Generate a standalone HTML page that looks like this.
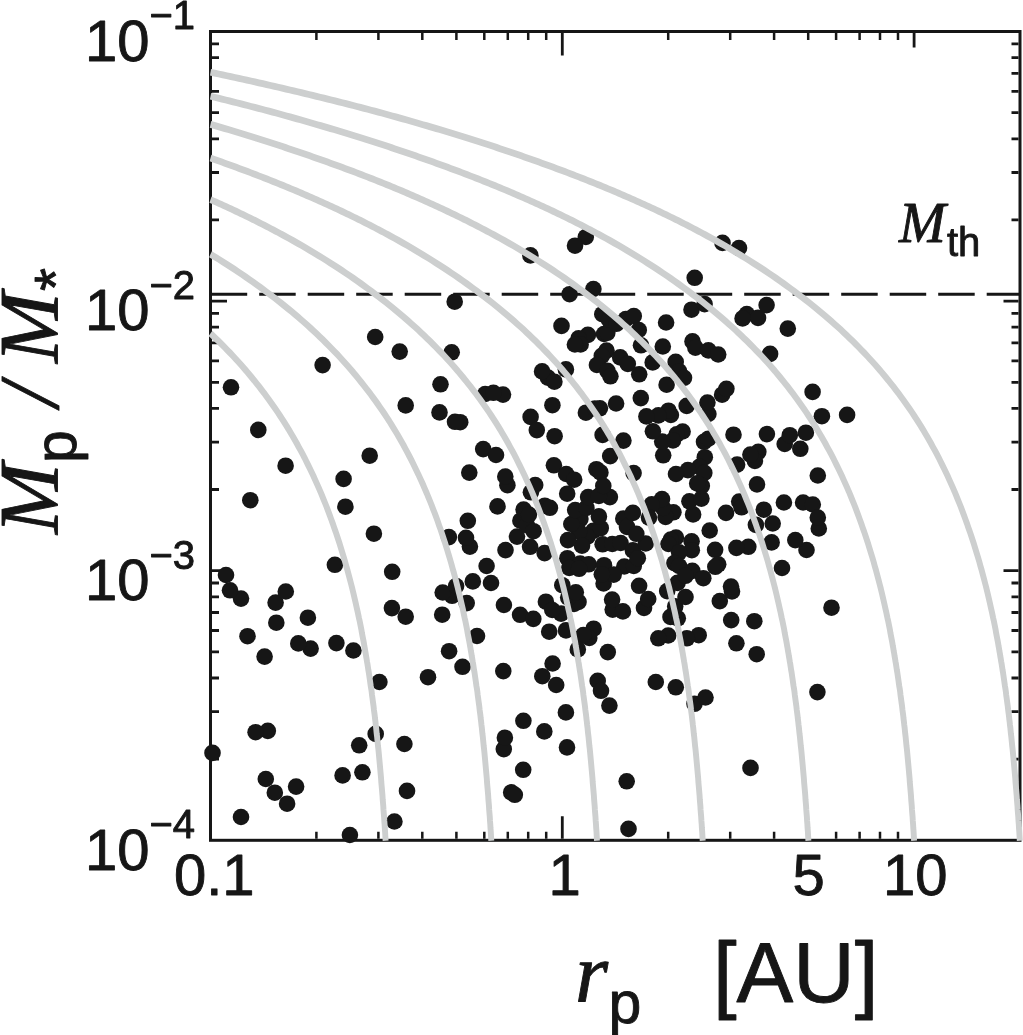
<!DOCTYPE html>
<html lang="en"><head><meta charset="utf-8"><title>Mp/M* vs rp</title>
<style>html,body{margin:0;padding:0;background:#fff}svg{display:block}.s{font-family:"Liberation Sans",sans-serif;fill:#161616;stroke:#161616;stroke-width:0.9px;stroke-linejoin:round}.t{font-family:"Liberation Serif",serif;font-style:italic;fill:#161616;stroke:#161616;stroke-width:0.9px;stroke-linejoin:round}</style></head><body>
<svg width="1023" height="1035" viewBox="0 0 1023 1035">
<rect width="1023" height="1035" fill="#fff"/>
<g stroke="#161616" fill="none" stroke-linecap="butt">
<rect x="210.5" y="31.5" width="809.5" height="808.8" stroke-width="3"/>
<path d="M212.0 759.1h7.0M1018.5 759.1h-7.0M212.0 711.7h7.0M1018.5 711.7h-7.0M212.0 678.0h7.0M1018.5 678.0h-7.0M212.0 651.9h7.0M1018.5 651.9h-7.0M212.0 630.5h7.0M1018.5 630.5h-7.0M212.0 612.5h7.0M1018.5 612.5h-7.0M212.0 596.8h7.0M1018.5 596.8h-7.0M212.0 583.0h7.0M1018.5 583.0h-7.0M212.0 570.7h15.0M1018.5 570.7h-15.0M212.0 489.5h7.0M1018.5 489.5h-7.0M212.0 442.1h7.0M1018.5 442.1h-7.0M212.0 408.4h7.0M1018.5 408.4h-7.0M212.0 382.3h7.0M1018.5 382.3h-7.0M212.0 360.9h7.0M1018.5 360.9h-7.0M212.0 342.9h7.0M1018.5 342.9h-7.0M212.0 327.2h7.0M1018.5 327.2h-7.0M212.0 313.4h7.0M1018.5 313.4h-7.0M212.0 301.1h15.0M1018.5 301.1h-15.0M212.0 219.9h7.0M1018.5 219.9h-7.0M212.0 172.5h7.0M1018.5 172.5h-7.0M212.0 138.8h7.0M1018.5 138.8h-7.0M212.0 112.7h7.0M1018.5 112.7h-7.0M212.0 91.3h7.0M1018.5 91.3h-7.0M212.0 73.3h7.0M1018.5 73.3h-7.0M212.0 57.6h7.0M1018.5 57.6h-7.0M212.0 43.8h7.0M1018.5 43.8h-7.0M212.0 31.5h15.0M1018.5 31.5h-15.0" stroke-width="2.8"/>
<path d="M316.4 838.8v-7.0M316.4 33.0v7.0M378.4 838.8v-7.0M378.4 33.0v7.0M422.3 838.8v-7.0M422.3 33.0v7.0M456.4 838.8v-7.0M456.4 33.0v7.0M484.3 838.8v-7.0M484.3 33.0v7.0M507.8 838.8v-7.0M507.8 33.0v7.0M528.2 838.8v-7.0M528.2 33.0v7.0M546.2 838.8v-7.0M546.2 33.0v7.0M668.2 838.8v-7.0M668.2 33.0v7.0M730.2 838.8v-7.0M730.2 33.0v7.0M774.1 838.8v-7.0M774.1 33.0v7.0M808.2 838.8v-7.0M808.2 33.0v7.0M836.1 838.8v-7.0M836.1 33.0v7.0M859.6 838.8v-7.0M859.6 33.0v7.0M880.0 838.8v-7.0M880.0 33.0v7.0M898.0 838.8v-7.0M898.0 33.0v7.0" stroke-width="2.5"/>
<path d="M562.3 838.8v-22.5M562.3 33.0v22.5M914.1 838.8v-14.5M914.1 33.0v14.5" stroke-width="2.8"/>
<path d="M210.7 294.2H1020.0" stroke-width="3.1" stroke-dasharray="36.5 12"/>
</g>
<g fill="#161616">
<circle cx="523.2" cy="769.8" r="8.3"/>
<circle cx="593.3" cy="530.8" r="8.3"/>
<circle cx="784.7" cy="444.0" r="8.3"/>
<circle cx="698.7" cy="635.2" r="8.3"/>
<circle cx="587.9" cy="334.9" r="8.3"/>
<circle cx="593.6" cy="628.7" r="8.3"/>
<circle cx="782.0" cy="568.0" r="8.3"/>
<circle cx="587.4" cy="536.7" r="8.3"/>
<circle cx="682.6" cy="431.5" r="8.3"/>
<circle cx="800.3" cy="448.8" r="8.3"/>
<circle cx="310.6" cy="648.6" r="8.3"/>
<circle cx="589.3" cy="638.0" r="8.3"/>
<circle cx="353.4" cy="650.5" r="8.3"/>
<circle cx="770.1" cy="353.9" r="8.3"/>
<circle cx="336.4" cy="643.1" r="8.3"/>
<circle cx="789.8" cy="435.2" r="8.3"/>
<circle cx="600.8" cy="528.1" r="8.3"/>
<circle cx="580.4" cy="519.1" r="8.3"/>
<circle cx="579.1" cy="531.8" r="8.3"/>
<circle cx="686.9" cy="638.3" r="8.3"/>
<circle cx="691.6" cy="541.3" r="8.3"/>
<circle cx="578.6" cy="338.4" r="8.3"/>
<circle cx="692.5" cy="341.4" r="8.3"/>
<circle cx="298.3" cy="643.4" r="8.3"/>
<circle cx="359.2" cy="745.3" r="8.3"/>
<circle cx="805.9" cy="432.7" r="8.3"/>
<circle cx="602.6" cy="434.9" r="8.3"/>
<circle cx="503.8" cy="749.1" r="8.3"/>
<circle cx="676.7" cy="434.3" r="8.3"/>
<circle cx="598.9" cy="516.4" r="8.3"/>
<circle cx="583.4" cy="635.1" r="8.3"/>
<circle cx="604.0" cy="334.0" r="8.3"/>
<circle cx="704.0" cy="441.8" r="8.3"/>
<circle cx="676.0" cy="537.5" r="8.3"/>
<circle cx="511.2" cy="792.4" r="8.3"/>
<circle cx="517.0" cy="536.6" r="8.3"/>
<circle cx="602.6" cy="544.3" r="8.3"/>
<circle cx="806.5" cy="550.0" r="8.3"/>
<circle cx="580.6" cy="344.5" r="8.3"/>
<circle cx="574.9" cy="344.5" r="8.3"/>
<circle cx="514.8" cy="794.8" r="8.3"/>
<circle cx="693.1" cy="514.4" r="8.3"/>
<circle cx="582.0" cy="545.7" r="8.3"/>
<circle cx="602.3" cy="314.2" r="8.3"/>
<circle cx="369.7" cy="455.7" r="8.3"/>
<circle cx="739.0" cy="248.0" r="8.3"/>
<circle cx="766.9" cy="434.1" r="8.3"/>
<circle cx="505.5" cy="550.1" r="8.3"/>
<circle cx="673.0" cy="440.4" r="8.3"/>
<circle cx="520.4" cy="520.7" r="8.3"/>
<circle cx="612.7" cy="609.6" r="8.3"/>
<circle cx="607.3" cy="332.8" r="8.3"/>
<circle cx="585.9" cy="412.7" r="8.3"/>
<circle cx="362.4" cy="772.3" r="8.3"/>
<circle cx="695.4" cy="347.7" r="8.3"/>
<circle cx="673.4" cy="512.3" r="8.3"/>
<circle cx="708.4" cy="414.0" r="8.3"/>
<circle cx="708.4" cy="438.7" r="8.3"/>
<circle cx="607.8" cy="652.1" r="8.3"/>
<circle cx="342.6" cy="775.4" r="8.3"/>
<circle cx="577.8" cy="649.4" r="8.3"/>
<circle cx="677.8" cy="618.3" r="8.3"/>
<circle cx="375.7" cy="733.9" r="8.3"/>
<circle cx="571.3" cy="524.0" r="8.3"/>
<circle cx="608.9" cy="319.6" r="8.3"/>
<circle cx="322.6" cy="365.1" r="8.3"/>
<circle cx="670.9" cy="415.0" r="8.3"/>
<circle cx="622.9" cy="611.4" r="8.3"/>
<circle cx="670.8" cy="539.6" r="8.3"/>
<circle cx="477.0" cy="636.0" r="8.3"/>
<circle cx="817.4" cy="692.1" r="8.3"/>
<circle cx="709.7" cy="530.5" r="8.3"/>
<circle cx="497.5" cy="506.4" r="8.3"/>
<circle cx="523.6" cy="509.5" r="8.3"/>
<circle cx="771.6" cy="542.4" r="8.3"/>
<circle cx="575.2" cy="510.1" r="8.3"/>
<circle cx="817.8" cy="475.5" r="8.3"/>
<circle cx="379.4" cy="682.0" r="8.3"/>
<circle cx="285.6" cy="465.7" r="8.3"/>
<circle cx="276.3" cy="622.7" r="8.3"/>
<circle cx="691.5" cy="309.7" r="8.3"/>
<circle cx="691.8" cy="550.2" r="8.3"/>
<circle cx="504.9" cy="737.7" r="8.3"/>
<circle cx="708.4" cy="350.4" r="8.3"/>
<circle cx="307.9" cy="617.7" r="8.3"/>
<circle cx="606.5" cy="350.6" r="8.3"/>
<circle cx="675.2" cy="606.4" r="8.3"/>
<circle cx="520.1" cy="614.8" r="8.3"/>
<circle cx="503.0" cy="394.6" r="8.3"/>
<circle cx="795.3" cy="540.1" r="8.3"/>
<circle cx="594.9" cy="408.5" r="8.3"/>
<circle cx="668.5" cy="410.7" r="8.3"/>
<circle cx="668.5" cy="544.0" r="8.3"/>
<circle cx="530.4" cy="255.4" r="8.3"/>
<circle cx="599.9" cy="408.3" r="8.3"/>
<circle cx="485.2" cy="394.0" r="8.3"/>
<circle cx="574.0" cy="604.0" r="8.3"/>
<circle cx="586.4" cy="507.9" r="8.3"/>
<circle cx="567.9" cy="540.1" r="8.3"/>
<circle cx="612.3" cy="544.0" r="8.3"/>
<circle cx="679.1" cy="552.3" r="8.3"/>
<circle cx="526.8" cy="525.1" r="8.3"/>
<circle cx="493.4" cy="392.8" r="8.3"/>
<circle cx="758.3" cy="451.8" r="8.3"/>
<circle cx="296.1" cy="786.6" r="8.3"/>
<circle cx="578.5" cy="601.9" r="8.3"/>
<circle cx="267.8" cy="730.9" r="8.3"/>
<circle cx="666.1" cy="322.5" r="8.3"/>
<circle cx="750.5" cy="767.9" r="8.3"/>
<circle cx="686.7" cy="405.9" r="8.3"/>
<circle cx="528.9" cy="514.6" r="8.3"/>
<circle cx="821.9" cy="416.2" r="8.3"/>
<circle cx="719.8" cy="601.1" r="8.3"/>
<circle cx="544.3" cy="731.4" r="8.3"/>
<circle cx="265.8" cy="779.0" r="8.3"/>
<circle cx="483.2" cy="449.1" r="8.3"/>
<circle cx="665.6" cy="517.0" r="8.3"/>
<circle cx="757.0" cy="484.4" r="8.3"/>
<circle cx="670.5" cy="616.9" r="8.3"/>
<circle cx="264.6" cy="656.6" r="8.3"/>
<circle cx="391.9" cy="608.1" r="8.3"/>
<circle cx="715.1" cy="549.8" r="8.3"/>
<circle cx="530.1" cy="546.8" r="8.3"/>
<circle cx="469.9" cy="546.6" r="8.3"/>
<circle cx="754.9" cy="461.0" r="8.3"/>
<circle cx="274.8" cy="792.7" r="8.3"/>
<circle cx="343.6" cy="478.9" r="8.3"/>
<circle cx="612.1" cy="599.6" r="8.3"/>
<circle cx="530.6" cy="416.9" r="8.3"/>
<circle cx="756.7" cy="654.2" r="8.3"/>
<circle cx="601.8" cy="355.8" r="8.3"/>
<circle cx="561.5" cy="325.9" r="8.3"/>
<circle cx="731.2" cy="620.1" r="8.3"/>
<circle cx="503.3" cy="671.1" r="8.3"/>
<circle cx="704.6" cy="304.1" r="8.3"/>
<circle cx="610.2" cy="456.1" r="8.3"/>
<circle cx="275.6" cy="602.6" r="8.3"/>
<circle cx="616.4" cy="323.8" r="8.3"/>
<circle cx="616.1" cy="403.5" r="8.3"/>
<circle cx="722.5" cy="242.9" r="8.3"/>
<circle cx="668.2" cy="635.5" r="8.3"/>
<circle cx="663.2" cy="455.3" r="8.3"/>
<circle cx="467.8" cy="520.8" r="8.3"/>
<circle cx="663.0" cy="507.9" r="8.3"/>
<circle cx="568.2" cy="597.6" r="8.3"/>
<circle cx="258.3" cy="429.9" r="8.3"/>
<circle cx="662.8" cy="346.5" r="8.3"/>
<circle cx="704.8" cy="457.2" r="8.3"/>
<circle cx="707.4" cy="402.5" r="8.3"/>
<circle cx="685.5" cy="597.0" r="8.3"/>
<circle cx="533.3" cy="618.9" r="8.3"/>
<circle cx="662.2" cy="441.6" r="8.3"/>
<circle cx="399.7" cy="351.6" r="8.3"/>
<circle cx="533.6" cy="531.2" r="8.3"/>
<circle cx="718.2" cy="354.5" r="8.3"/>
<circle cx="567.4" cy="558.2" r="8.3"/>
<circle cx="766.6" cy="305.1" r="8.3"/>
<circle cx="255.6" cy="732.2" r="8.3"/>
<circle cx="466.0" cy="537.8" r="8.3"/>
<circle cx="750.4" cy="454.6" r="8.3"/>
<circle cx="566.0" cy="630.4" r="8.3"/>
<circle cx="689.4" cy="501.3" r="8.3"/>
<circle cx="496.0" cy="455.0" r="8.3"/>
<circle cx="503.9" cy="605.0" r="8.3"/>
<circle cx="585.8" cy="237.0" r="8.3"/>
<circle cx="567.0" cy="747.4" r="8.3"/>
<circle cx="287.1" cy="803.7" r="8.3"/>
<circle cx="818.8" cy="528.5" r="8.3"/>
<circle cx="831.5" cy="607.7" r="8.3"/>
<circle cx="748.3" cy="546.8" r="8.3"/>
<circle cx="404.4" cy="744.0" r="8.3"/>
<circle cx="486.6" cy="566.0" r="8.3"/>
<circle cx="375.2" cy="337.0" r="8.3"/>
<circle cx="620.2" cy="357.4" r="8.3"/>
<circle cx="405.7" cy="405.4" r="8.3"/>
<circle cx="405.7" cy="616.7" r="8.3"/>
<circle cx="736.4" cy="643.3" r="8.3"/>
<circle cx="285.8" cy="591.5" r="8.3"/>
<circle cx="620.6" cy="543.0" r="8.3"/>
<circle cx="536.8" cy="430.1" r="8.3"/>
<circle cx="466.7" cy="603.1" r="8.3"/>
<circle cx="523.4" cy="720.8" r="8.3"/>
<circle cx="407.0" cy="790.9" r="8.3"/>
<circle cx="569.6" cy="294.2" r="8.3"/>
<circle cx="662.0" cy="499.1" r="8.3"/>
<circle cx="462.5" cy="666.8" r="8.3"/>
<circle cx="247.5" cy="636.2" r="8.3"/>
<circle cx="701.4" cy="498.6" r="8.3"/>
<circle cx="530.9" cy="492.3" r="8.3"/>
<circle cx="575.8" cy="592.3" r="8.3"/>
<circle cx="658.4" cy="415.4" r="8.3"/>
<circle cx="675.7" cy="361.9" r="8.3"/>
<circle cx="755.9" cy="524.9" r="8.3"/>
<circle cx="732.0" cy="591.4" r="8.3"/>
<circle cx="561.1" cy="613.6" r="8.3"/>
<circle cx="667.2" cy="591.1" r="8.3"/>
<circle cx="609.9" cy="497.1" r="8.3"/>
<circle cx="588.1" cy="497.1" r="8.3"/>
<circle cx="674.4" cy="563.1" r="8.3"/>
<circle cx="460.2" cy="422.2" r="8.3"/>
<circle cx="772.7" cy="523.5" r="8.3"/>
<circle cx="623.3" cy="518.6" r="8.3"/>
<circle cx="623.4" cy="440.6" r="8.3"/>
<circle cx="580.1" cy="563.6" r="8.3"/>
<circle cx="250.3" cy="500.2" r="8.3"/>
<circle cx="746.8" cy="314.0" r="8.3"/>
<circle cx="241.0" cy="598.6" r="8.3"/>
<circle cx="598.9" cy="495.9" r="8.3"/>
<circle cx="588.7" cy="564.3" r="8.3"/>
<circle cx="718.2" cy="564.3" r="8.3"/>
<circle cx="847.1" cy="414.9" r="8.3"/>
<circle cx="575.0" cy="245.7" r="8.3"/>
<circle cx="241.0" cy="817.0" r="8.3"/>
<circle cx="658.3" cy="638.3" r="8.3"/>
<circle cx="596.9" cy="365.0" r="8.3"/>
<circle cx="604.0" cy="565.2" r="8.3"/>
<circle cx="542.3" cy="676.2" r="8.3"/>
<circle cx="554.6" cy="436.2" r="8.3"/>
<circle cx="722.1" cy="394.7" r="8.3"/>
<circle cx="625.8" cy="319.1" r="8.3"/>
<circle cx="553.9" cy="465.3" r="8.3"/>
<circle cx="726.0" cy="512.9" r="8.3"/>
<circle cx="679.1" cy="566.0" r="8.3"/>
<circle cx="565.9" cy="712.4" r="8.3"/>
<circle cx="345.4" cy="506.7" r="8.3"/>
<circle cx="758.0" cy="317.9" r="8.3"/>
<circle cx="567.2" cy="493.7" r="8.3"/>
<circle cx="731.0" cy="586.6" r="8.3"/>
<circle cx="394.4" cy="821.5" r="8.3"/>
<circle cx="624.3" cy="566.5" r="8.3"/>
<circle cx="742.6" cy="318.4" r="8.3"/>
<circle cx="754.3" cy="621.2" r="8.3"/>
<circle cx="644.0" cy="607.9" r="8.3"/>
<circle cx="699.4" cy="466.8" r="8.3"/>
<circle cx="715.3" cy="566.8" r="8.3"/>
<circle cx="739.2" cy="501.5" r="8.3"/>
<circle cx="639.1" cy="585.8" r="8.3"/>
<circle cx="627.0" cy="526.9" r="8.3"/>
<circle cx="652.9" cy="431.3" r="8.3"/>
<circle cx="652.7" cy="362.4" r="8.3"/>
<circle cx="507.4" cy="485.2" r="8.3"/>
<circle cx="544.8" cy="505.7" r="8.3"/>
<circle cx="544.6" cy="553.1" r="8.3"/>
<circle cx="562.3" cy="585.2" r="8.3"/>
<circle cx="455.0" cy="421.8" r="8.3"/>
<circle cx="535.2" cy="485.0" r="8.3"/>
<circle cx="783.9" cy="502.5" r="8.3"/>
<circle cx="803.1" cy="502.5" r="8.3"/>
<circle cx="552.4" cy="405.2" r="8.3"/>
<circle cx="627.8" cy="363.9" r="8.3"/>
<circle cx="737.1" cy="464.6" r="8.3"/>
<circle cx="231.0" cy="387.3" r="8.3"/>
<circle cx="569.3" cy="568.0" r="8.3"/>
<circle cx="230.0" cy="590.3" r="8.3"/>
<circle cx="651.7" cy="504.4" r="8.3"/>
<circle cx="736.4" cy="547.9" r="8.3"/>
<circle cx="545.9" cy="601.7" r="8.3"/>
<circle cx="392.2" cy="571.8" r="8.3"/>
<circle cx="579.1" cy="568.8" r="8.3"/>
<circle cx="603.6" cy="583.5" r="8.3"/>
<circle cx="812.8" cy="504.5" r="8.3"/>
<circle cx="428.0" cy="677.2" r="8.3"/>
<circle cx="628.5" cy="828.9" r="8.3"/>
<circle cx="596.4" cy="469.2" r="8.3"/>
<circle cx="677.5" cy="582.9" r="8.3"/>
<circle cx="565.9" cy="369.4" r="8.3"/>
<circle cx="552.6" cy="663.5" r="8.3"/>
<circle cx="626.7" cy="781.3" r="8.3"/>
<circle cx="552.3" cy="610.0" r="8.3"/>
<circle cx="226.0" cy="575.0" r="8.3"/>
<circle cx="547.9" cy="377.6" r="8.3"/>
<circle cx="452.1" cy="595.8" r="8.3"/>
<circle cx="549.9" cy="507.8" r="8.3"/>
<circle cx="687.9" cy="470.1" r="8.3"/>
<circle cx="648.2" cy="599.0" r="8.3"/>
<circle cx="733.5" cy="434.7" r="8.3"/>
<circle cx="542.1" cy="371.4" r="8.3"/>
<circle cx="454.7" cy="301.7" r="8.3"/>
<circle cx="607.4" cy="370.9" r="8.3"/>
<circle cx="692.3" cy="570.9" r="8.3"/>
<circle cx="741.6" cy="507.3" r="8.3"/>
<circle cx="593.4" cy="289.0" r="8.3"/>
<circle cx="649.0" cy="517.6" r="8.3"/>
<circle cx="334.9" cy="564.8" r="8.3"/>
<circle cx="549.2" cy="631.7" r="8.3"/>
<circle cx="726.4" cy="388.8" r="8.3"/>
<circle cx="679.1" cy="371.4" r="8.3"/>
<circle cx="812.6" cy="391.9" r="8.3"/>
<circle cx="349.9" cy="835.0" r="8.3"/>
<circle cx="600.4" cy="472.4" r="8.3"/>
<circle cx="597.7" cy="680.9" r="8.3"/>
<circle cx="449.1" cy="651.2" r="8.3"/>
<circle cx="448.9" cy="537.1" r="8.3"/>
<circle cx="451.7" cy="352.3" r="8.3"/>
<circle cx="763.8" cy="509.7" r="8.3"/>
<circle cx="704.3" cy="472.9" r="8.3"/>
<circle cx="632.9" cy="512.9" r="8.3"/>
<circle cx="632.9" cy="550.4" r="8.3"/>
<circle cx="787.8" cy="328.6" r="8.3"/>
<circle cx="472.8" cy="581.4" r="8.3"/>
<circle cx="703.3" cy="578.2" r="8.3"/>
<circle cx="655.8" cy="682.0" r="8.3"/>
<circle cx="439.5" cy="412.4" r="8.3"/>
<circle cx="633.6" cy="473.1" r="8.3"/>
<circle cx="646.4" cy="416.4" r="8.3"/>
<circle cx="633.8" cy="316.0" r="8.3"/>
<circle cx="633.8" cy="566.0" r="8.3"/>
<circle cx="613.7" cy="574.6" r="8.3"/>
<circle cx="469.3" cy="472.6" r="8.3"/>
<circle cx="440.5" cy="384.3" r="8.3"/>
<circle cx="694.7" cy="277.8" r="8.3"/>
<circle cx="566.2" cy="474.0" r="8.3"/>
<circle cx="676.0" cy="474.0" r="8.3"/>
<circle cx="603.3" cy="485.9" r="8.3"/>
<circle cx="701.8" cy="485.9" r="8.3"/>
<circle cx="491.0" cy="583.0" r="8.3"/>
<circle cx="601.8" cy="574.3" r="8.3"/>
<circle cx="645.7" cy="543.5" r="8.3"/>
<circle cx="442.2" cy="614.7" r="8.3"/>
<circle cx="505.3" cy="476.5" r="8.3"/>
<circle cx="442.7" cy="592.5" r="8.3"/>
<circle cx="212.5" cy="752.9" r="8.3"/>
<circle cx="685.5" cy="575.8" r="8.3"/>
<circle cx="666.6" cy="384.7" r="8.3"/>
<circle cx="554.4" cy="381.7" r="8.3"/>
<circle cx="556.2" cy="685.0" r="8.3"/>
<circle cx="610.4" cy="376.3" r="8.3"/>
<circle cx="636.3" cy="533.8" r="8.3"/>
<circle cx="697.2" cy="483.4" r="8.3"/>
<circle cx="373.9" cy="533.7" r="8.3"/>
<circle cx="456.1" cy="586.1" r="8.3"/>
<circle cx="684.0" cy="377.8" r="8.3"/>
<circle cx="637.8" cy="558.2" r="8.3"/>
<circle cx="675.8" cy="687.3" r="8.3"/>
<circle cx="609.4" cy="705.6" r="8.3"/>
<circle cx="817.8" cy="517.5" r="8.3"/>
<circle cx="694.5" cy="703.8" r="8.3"/>
<circle cx="641.0" cy="345.3" r="8.3"/>
<circle cx="639.2" cy="374.3" r="8.3"/>
<circle cx="640.8" cy="398.1" r="8.3"/>
<circle cx="574.2" cy="479.7" r="8.3"/>
<circle cx="601.0" cy="690.8" r="8.3"/>
<circle cx="705.5" cy="697.5" r="8.3"/>
<circle cx="638.8" cy="330.0" r="8.3"/>
</g>
<g transform="scale(1 1.15)" stroke="#cdcfcf" fill="none" stroke-width="5.9" stroke-linecap="butt" stroke-linejoin="round">
<path d="M210.5 62.80L214.6 63.56L218.7 64.32L222.8 65.08L226.8 65.84L230.9 66.61L234.9 67.37L238.9 68.14L242.9 68.91L246.9 69.68L250.9 70.45L254.9 71.22L258.8 72.00L262.8 72.77L266.7 73.55L270.6 74.32L274.5 75.10L278.4 75.88L282.2 76.66L286.1 77.45L290.0 78.23L293.8 79.02L297.6 79.80L301.4 80.59L305.2 81.38L309.0 82.17L312.7 82.96L316.5 83.76L320.2 84.55L324.0 85.35L327.7 86.15L331.4 86.95L335.1 87.75L338.7 88.55L342.4 89.35L346.0 90.16L349.7 90.96L353.3 91.77L356.9 92.58L360.5 93.39L364.1 94.20L367.7 95.02L371.2 95.84L374.8 96.66L378.3 97.49L381.8 98.32L385.3 99.15L388.8 99.99L392.3 100.82L395.8 101.66L399.2 102.50L402.7 103.34L406.1 104.18L409.5 105.02L412.9 105.87L416.3 106.71L419.7 107.56L423.0 108.41L426.4 109.26L429.7 110.11L433.1 110.96L436.4 111.82L439.7 112.67L443.0 113.53L446.2 114.39L449.5 115.25L452.8 116.12L456.0 116.98L459.2 117.85L462.5 118.72L465.7 119.59L468.9 120.46L472.0 121.33L475.2 122.20L478.4 123.08L481.5 123.96L484.6 124.84L487.8 125.72L490.9 126.60L494.0 127.49L497.1 128.37L500.1 129.26L503.2 130.15L506.2 131.04L509.3 131.93L512.3 132.83L515.3 133.72L518.3 134.62L521.3 135.52L524.3 136.42L527.2 137.33L530.2 138.23L533.1 139.14L536.1 140.05L539.0 140.95L541.9 141.86L544.8 142.77L547.7 143.68L550.6 144.60L553.4 145.51L556.3 146.43L559.1 147.35L562.0 148.27L564.8 149.19L567.6 150.12L570.4 151.04L573.2 151.97L575.9 152.90L578.7 153.83L581.4 154.77L584.2 155.70L586.9 156.64L589.6 157.58L592.3 158.52L595.0 159.46L597.7 160.41L600.4 161.36L603.0 162.30L605.7 163.26L608.3 164.21L610.9 165.16L613.6 166.12L616.2 167.08L618.8 168.04L621.3 169.00L623.9 169.97L626.5 170.94L629.0 171.91L631.6 172.88L634.1 173.85L636.6 174.82L639.1 175.80L641.6 176.78L644.1 177.76L646.6 178.75L649.0 179.73L651.5 180.72L653.9 181.71L656.4 182.70L658.8 183.69L661.2 184.69L663.6 185.69L666.0 186.69L668.4 187.69L670.7 188.70L673.1 189.70L675.4 190.71L677.8 191.72L680.1 192.74L682.4 193.75L684.7 194.77L687.0 195.79L689.3 196.81L691.6 197.84L693.8 198.87L696.1 199.90L698.3 200.93L700.6 201.97L702.8 203.00L705.0 204.04L707.2 205.09L711.6 207.18L715.9 209.28L720.2 211.39L724.5 213.51L728.7 215.64L732.8 217.78L737.0 219.92L741.1 222.08L745.1 224.25L749.1 226.43L753.1 228.62L757.1 230.82L761.0 233.03L764.8 235.25L768.6 237.48L772.4 239.72L776.2 241.97L779.9 244.24L783.6 246.51L787.2 248.80L790.8 251.09L794.4 253.40L797.9 255.70L801.4 258.01L804.9 260.33L808.3 262.67L811.7 265.01L815.1 267.37L818.4 269.74L821.7 272.12L825.0 274.52L828.2 276.93L831.4 279.35L834.5 281.78L837.7 284.23L840.8 286.69L843.8 289.16L846.8 291.65L849.8 294.15L852.8 296.67L855.7 299.19L858.6 301.74L861.4 304.29L864.3 306.86L867.1 309.45L869.8 312.05L872.6 314.67L875.3 317.30L877.9 319.94L880.6 322.60L883.2 325.28L885.7 327.97L888.3 330.68L890.8 333.41L893.3 336.15L895.7 338.91L898.2 341.68L900.5 344.48L902.9 347.29L905.2 350.11L907.5 352.96L909.8 355.82L912.1 358.70L914.3 361.60L916.5 364.52L918.6 367.46L920.8 370.43L922.9 373.41L924.9 376.41L927.0 379.43L929.0 382.47L931.0 385.53L932.9 388.62L934.9 391.72L936.8 394.84L938.7 397.99L940.5 401.16L942.3 404.35L944.1 407.56L945.9 410.80L947.7 414.06L949.4 417.34L951.1 420.65L952.8 423.97L954.5 427.32L956.1 430.70L957.7 434.10L959.3 437.53L960.9 440.99L962.4 444.47L963.9 447.98L965.4 451.51L966.9 455.08L968.3 458.67L969.8 462.29L971.2 465.94L972.6 469.61L974.0 473.32L975.3 477.06L976.6 480.83L978.0 484.63L979.3 488.47L980.5 492.33L981.8 496.24L983.0 500.17L984.2 504.14L985.4 508.15L986.6 512.19L987.7 516.27L988.8 520.39L989.9 524.54L991.0 528.74L992.1 532.97L992.6 535.10L993.1 537.24L993.7 539.40L994.2 541.56L994.7 543.73L995.2 545.92L995.7 548.11L996.1 550.32L996.6 552.54L997.1 554.77L997.6 557.01L998.1 559.26L998.5 561.52L999.0 563.79L999.4 566.07L999.9 568.37L1000.3 570.68L1000.8 573.00L1001.2 575.33L1001.7 577.67L1002.1 580.03L1002.5 582.40L1003.0 584.78L1003.4 587.17L1003.8 589.57L1004.2 591.99L1004.6 594.42L1005.0 596.87L1005.5 599.33L1005.9 601.80L1006.2 604.29L1006.6 606.78L1007.0 609.30L1007.4 611.83L1007.8 614.37L1008.1 616.92L1008.5 619.50L1008.9 622.08L1009.2 624.68L1009.6 627.30L1009.9 629.93L1010.3 632.58L1010.6 635.24L1010.9 637.92L1011.3 640.61L1011.6 643.32L1011.9 646.05L1012.2 648.79L1012.6 651.55L1012.9 654.33L1013.2 657.12L1013.5 659.93L1013.8 662.76L1014.1 665.60L1014.4 668.47L1014.7 671.35L1015.0 674.25L1015.3 677.17L1015.5 680.11L1015.8 683.07L1016.1 686.05L1016.4 689.04L1016.7 692.06L1016.9 695.10L1017.2 698.15L1017.5 701.23L1017.7 704.33L1018.0 707.45L1018.3 710.59L1018.5 713.76L1018.8 716.94L1019.0 720.15L1019.3 723.39L1019.5 726.64L1019.8 731.01"/>
<path d="M210.5 83.70L214.5 84.55L218.3 85.35L222.0 86.15L225.7 86.95L229.4 87.75L233.0 88.55L236.7 89.35L240.3 90.16L244.0 90.96L247.6 91.77L251.2 92.58L254.8 93.39L258.4 94.20L262.0 95.02L265.5 95.84L269.1 96.66L272.6 97.49L276.1 98.32L279.6 99.15L283.1 99.99L286.6 100.82L290.1 101.66L293.5 102.50L297.0 103.34L300.4 104.18L303.8 105.02L307.2 105.87L310.6 106.71L314.0 107.56L317.3 108.41L320.7 109.26L324.0 110.11L327.4 110.96L330.7 111.82L334.0 112.67L337.3 113.53L340.5 114.39L343.8 115.25L347.1 116.12L350.3 116.98L353.5 117.85L356.8 118.72L360.0 119.59L363.2 120.46L366.3 121.33L369.5 122.20L372.7 123.08L375.8 123.96L378.9 124.84L382.1 125.72L385.2 126.60L388.3 127.49L391.4 128.37L394.4 129.26L397.5 130.15L400.5 131.04L403.6 131.93L406.6 132.83L409.6 133.72L412.6 134.62L415.6 135.52L418.6 136.42L421.5 137.33L424.5 138.23L427.4 139.14L430.4 140.05L433.3 140.95L436.2 141.86L439.1 142.77L442.0 143.68L444.9 144.60L447.7 145.51L450.6 146.43L453.4 147.35L456.3 148.27L459.1 149.19L461.9 150.12L464.7 151.04L467.5 151.97L470.2 152.90L473.0 153.83L475.7 154.77L478.5 155.70L481.2 156.64L483.9 157.58L486.6 158.52L489.3 159.46L492.0 160.41L494.7 161.36L497.3 162.30L500.0 163.26L502.6 164.21L505.2 165.16L507.9 166.12L510.5 167.08L513.1 168.04L515.6 169.00L518.2 169.97L520.8 170.94L523.3 171.91L525.9 172.88L528.4 173.85L530.9 174.82L533.4 175.80L535.9 176.78L538.4 177.76L540.9 178.75L543.3 179.73L545.8 180.72L548.2 181.71L550.7 182.70L553.1 183.69L555.5 184.69L557.9 185.69L560.3 186.69L562.7 187.69L565.0 188.70L567.4 189.70L569.7 190.71L572.1 191.72L574.4 192.74L576.7 193.75L579.0 194.77L581.3 195.79L583.6 196.81L585.9 197.84L588.1 198.87L590.4 199.90L592.6 200.93L594.9 201.97L597.1 203.00L599.3 204.04L601.5 205.09L605.9 207.18L610.2 209.28L614.5 211.39L618.8 213.51L623.0 215.64L627.1 217.78L631.3 219.92L635.4 222.08L639.4 224.25L643.4 226.43L647.4 228.62L651.4 230.82L655.3 233.03L659.1 235.25L662.9 237.48L666.7 239.72L670.5 241.97L674.2 244.24L677.9 246.51L681.5 248.80L685.1 251.09L688.7 253.40L692.2 255.70L695.7 258.01L699.2 260.33L702.6 262.67L706.0 265.01L709.4 267.37L712.7 269.74L716.0 272.12L719.3 274.52L722.5 276.93L725.7 279.35L728.8 281.78L732.0 284.23L735.1 286.69L738.1 289.16L741.1 291.65L744.1 294.15L747.1 296.67L750.0 299.19L752.9 301.74L755.7 304.29L758.6 306.86L761.4 309.45L764.1 312.05L766.9 314.67L769.6 317.30L772.2 319.94L774.9 322.60L777.5 325.28L780.0 327.97L782.6 330.68L785.1 333.41L787.6 336.15L790.0 338.91L792.5 341.68L794.8 344.48L797.2 347.29L799.5 350.11L801.8 352.96L804.1 355.82L806.4 358.70L808.6 361.60L810.8 364.52L812.9 367.46L815.1 370.43L817.2 373.41L819.2 376.41L821.3 379.43L823.3 382.47L825.3 385.53L827.2 388.62L829.2 391.72L831.1 394.84L833.0 397.99L834.8 401.16L836.6 404.35L838.4 407.56L840.2 410.80L842.0 414.06L843.7 417.34L845.4 420.65L847.1 423.97L848.8 427.32L850.4 430.70L852.0 434.10L853.6 437.53L855.2 440.99L856.7 444.47L858.2 447.98L859.7 451.51L861.2 455.08L862.6 458.67L864.1 462.29L865.5 465.94L866.9 469.61L868.3 473.32L869.6 477.06L870.9 480.83L872.3 484.63L873.6 488.47L874.8 492.33L876.1 496.24L877.3 500.17L878.5 504.14L879.7 508.15L880.9 512.19L882.0 516.27L883.1 520.39L884.2 524.54L885.3 528.74L886.4 532.97L886.9 535.10L887.4 537.24L888.0 539.40L888.5 541.56L889.0 543.73L889.5 545.92L890.0 548.11L890.4 550.32L890.9 552.54L891.4 554.77L891.9 557.01L892.4 559.26L892.8 561.52L893.3 563.79L893.7 566.07L894.2 568.37L894.6 570.68L895.1 573.00L895.5 575.33L896.0 577.67L896.4 580.03L896.8 582.40L897.3 584.78L897.7 587.17L898.1 589.57L898.5 591.99L898.9 594.42L899.3 596.87L899.8 599.33L900.2 601.80L900.5 604.29L900.9 606.78L901.3 609.30L901.7 611.83L902.1 614.37L902.4 616.92L902.8 619.50L903.2 622.08L903.5 624.68L903.9 627.30L904.2 629.93L904.6 632.58L904.9 635.24L905.2 637.92L905.6 640.61L905.9 643.32L906.2 646.05L906.5 648.79L906.9 651.55L907.2 654.33L907.5 657.12L907.8 659.93L908.1 662.76L908.4 665.60L908.7 668.47L909.0 671.35L909.3 674.25L909.6 677.17L909.8 680.11L910.1 683.07L910.4 686.05L910.7 689.04L911.0 692.06L911.2 695.10L911.5 698.15L911.8 701.23L912.0 704.33L912.3 707.45L912.6 710.59L912.8 713.76L913.1 716.94L913.3 720.15L913.6 723.39L913.8 726.64L914.1 731.01"/>
<path d="M210.5 108.12L215.0 109.26L218.3 110.11L221.7 110.96L225.0 111.82L228.3 112.67L231.6 113.53L234.8 114.39L238.1 115.25L241.4 116.12L244.6 116.98L247.8 117.85L251.1 118.72L254.3 119.59L257.5 120.46L260.6 121.33L263.8 122.20L267.0 123.08L270.1 123.96L273.2 124.84L276.4 125.72L279.5 126.60L282.6 127.49L285.7 128.37L288.7 129.26L291.8 130.15L294.8 131.04L297.9 131.93L300.9 132.83L303.9 133.72L306.9 134.62L309.9 135.52L312.9 136.42L315.8 137.33L318.8 138.23L321.7 139.14L324.7 140.05L327.6 140.95L330.5 141.86L333.4 142.77L336.3 143.68L339.2 144.60L342.0 145.51L344.9 146.43L347.7 147.35L350.6 148.27L353.4 149.19L356.2 150.12L359.0 151.04L361.8 151.97L364.5 152.90L367.3 153.83L370.0 154.77L372.8 155.70L375.5 156.64L378.2 157.58L380.9 158.52L383.6 159.46L386.3 160.41L389.0 161.36L391.6 162.30L394.3 163.26L396.9 164.21L399.5 165.16L402.2 166.12L404.8 167.08L407.4 168.04L409.9 169.00L412.5 169.97L415.1 170.94L417.6 171.91L420.2 172.88L422.7 173.85L425.2 174.82L427.7 175.80L430.2 176.78L432.7 177.76L435.2 178.75L437.6 179.73L440.1 180.72L442.5 181.71L445.0 182.70L447.4 183.69L449.8 184.69L452.2 185.69L454.6 186.69L457.0 187.69L459.3 188.70L461.7 189.70L464.0 190.71L466.4 191.72L468.7 192.74L471.0 193.75L473.3 194.77L475.6 195.79L477.9 196.81L480.2 197.84L482.4 198.87L484.7 199.90L486.9 200.93L489.2 201.97L491.4 203.00L493.6 204.04L495.8 205.09L500.2 207.18L504.5 209.28L508.8 211.39L513.1 213.51L517.3 215.64L521.4 217.78L525.6 219.92L529.7 222.08L533.7 224.25L537.7 226.43L541.7 228.62L545.7 230.82L549.6 233.03L553.4 235.25L557.2 237.48L561.0 239.72L564.8 241.97L568.5 244.24L572.2 246.51L575.8 248.80L579.4 251.09L583.0 253.40L586.5 255.70L590.0 258.01L593.5 260.33L596.9 262.67L600.3 265.01L603.7 267.37L607.0 269.74L610.3 272.12L613.6 274.52L616.8 276.93L620.0 279.35L623.1 281.78L626.3 284.23L629.4 286.69L632.4 289.16L635.4 291.65L638.4 294.15L641.4 296.67L644.3 299.19L647.2 301.74L650.0 304.29L652.9 306.86L655.7 309.45L658.4 312.05L661.2 314.67L663.9 317.30L666.5 319.94L669.2 322.60L671.8 325.28L674.3 327.97L676.9 330.68L679.4 333.41L681.9 336.15L684.3 338.91L686.8 341.68L689.1 344.48L691.5 347.29L693.8 350.11L696.1 352.96L698.4 355.82L700.7 358.70L702.9 361.60L705.1 364.52L707.2 367.46L709.4 370.43L711.5 373.41L713.5 376.41L715.6 379.43L717.6 382.47L719.6 385.53L721.5 388.62L723.5 391.72L725.4 394.84L727.3 397.99L729.1 401.16L730.9 404.35L732.7 407.56L734.5 410.80L736.3 414.06L738.0 417.34L739.7 420.65L741.4 423.97L743.1 427.32L744.7 430.70L746.3 434.10L747.9 437.53L749.5 440.99L751.0 444.47L752.5 447.98L754.0 451.51L755.5 455.08L756.9 458.67L758.4 462.29L759.8 465.94L761.2 469.61L762.6 473.32L763.9 477.06L765.2 480.83L766.6 484.63L767.9 488.47L769.1 492.33L770.4 496.24L771.6 500.17L772.8 504.14L774.0 508.15L775.2 512.19L776.3 516.27L777.4 520.39L778.5 524.54L779.6 528.74L780.7 532.97L781.2 535.10L781.7 537.24L782.3 539.40L782.8 541.56L783.3 543.73L783.8 545.92L784.3 548.11L784.7 550.32L785.2 552.54L785.7 554.77L786.2 557.01L786.7 559.26L787.1 561.52L787.6 563.79L788.0 566.07L788.5 568.37L788.9 570.68L789.4 573.00L789.8 575.33L790.3 577.67L790.7 580.03L791.1 582.40L791.6 584.78L792.0 587.17L792.4 589.57L792.8 591.99L793.2 594.42L793.6 596.87L794.1 599.33L794.5 601.80L794.8 604.29L795.2 606.78L795.6 609.30L796.0 611.83L796.4 614.37L796.7 616.92L797.1 619.50L797.5 622.08L797.8 624.68L798.2 627.30L798.5 629.93L798.9 632.58L799.2 635.24L799.5 637.92L799.9 640.61L800.2 643.32L800.5 646.05L800.8 648.79L801.2 651.55L801.5 654.33L801.8 657.12L802.1 659.93L802.4 662.76L802.7 665.60L803.0 668.47L803.3 671.35L803.6 674.25L803.9 677.17L804.1 680.11L804.4 683.07L804.7 686.05L805.0 689.04L805.3 692.06L805.5 695.10L805.8 698.15L806.1 701.23L806.3 704.33L806.6 707.45L806.9 710.59L807.1 713.76L807.4 716.94L807.6 720.15L807.9 723.39L808.1 726.64L808.4 731.01"/>
<path d="M210.5 137.43L213.1 138.23L216.0 139.14L219.0 140.05L221.9 140.95L224.8 141.86L227.7 142.77L230.6 143.68L233.5 144.60L236.3 145.51L239.2 146.43L242.0 147.35L244.9 148.27L247.7 149.19L250.5 150.12L253.3 151.04L256.1 151.97L258.8 152.90L261.6 153.83L264.3 154.77L267.1 155.70L269.8 156.64L272.5 157.58L275.2 158.52L277.9 159.46L280.6 160.41L283.3 161.36L285.9 162.30L288.6 163.26L291.2 164.21L293.8 165.16L296.5 166.12L299.1 167.08L301.7 168.04L304.2 169.00L306.8 169.97L309.4 170.94L311.9 171.91L314.5 172.88L317.0 173.85L319.5 174.82L322.0 175.80L324.5 176.78L327.0 177.76L329.5 178.75L331.9 179.73L334.4 180.72L336.8 181.71L339.3 182.70L341.7 183.69L344.1 184.69L346.5 185.69L348.9 186.69L351.3 187.69L353.6 188.70L356.0 189.70L358.3 190.71L360.7 191.72L363.0 192.74L365.3 193.75L367.6 194.77L369.9 195.79L372.2 196.81L374.5 197.84L376.7 198.87L379.0 199.90L381.2 200.93L383.5 201.97L385.7 203.00L387.9 204.04L390.1 205.09L394.5 207.18L398.8 209.28L403.1 211.39L407.4 213.51L411.6 215.64L415.7 217.78L419.9 219.92L424.0 222.08L428.0 224.25L432.0 226.43L436.0 228.62L440.0 230.82L443.9 233.03L447.7 235.25L451.5 237.48L455.3 239.72L459.1 241.97L462.8 244.24L466.5 246.51L470.1 248.80L473.7 251.09L477.3 253.40L480.8 255.70L484.3 258.01L487.8 260.33L491.2 262.67L494.6 265.01L498.0 267.37L501.3 269.74L504.6 272.12L507.9 274.52L511.1 276.93L514.3 279.35L517.4 281.78L520.6 284.23L523.7 286.69L526.7 289.16L529.7 291.65L532.7 294.15L535.7 296.67L538.6 299.19L541.5 301.74L544.3 304.29L547.2 306.86L550.0 309.45L552.7 312.05L555.5 314.67L558.2 317.30L560.8 319.94L563.5 322.60L566.1 325.28L568.6 327.97L571.2 330.68L573.7 333.41L576.2 336.15L578.6 338.91L581.1 341.68L583.4 344.48L585.8 347.29L588.1 350.11L590.4 352.96L592.7 355.82L595.0 358.70L597.2 361.60L599.4 364.52L601.5 367.46L603.7 370.43L605.8 373.41L607.8 376.41L609.9 379.43L611.9 382.47L613.9 385.53L615.8 388.62L617.8 391.72L619.7 394.84L621.6 397.99L623.4 401.16L625.2 404.35L627.0 407.56L628.8 410.80L630.6 414.06L632.3 417.34L634.0 420.65L635.7 423.97L637.4 427.32L639.0 430.70L640.6 434.10L642.2 437.53L643.8 440.99L645.3 444.47L646.8 447.98L648.3 451.51L649.8 455.08L651.2 458.67L652.7 462.29L654.1 465.94L655.5 469.61L656.9 473.32L658.2 477.06L659.5 480.83L660.9 484.63L662.2 488.47L663.4 492.33L664.7 496.24L665.9 500.17L667.1 504.14L668.3 508.15L669.5 512.19L670.6 516.27L671.7 520.39L672.8 524.54L673.9 528.74L675.0 532.97L675.5 535.10L676.0 537.24L676.6 539.40L677.1 541.56L677.6 543.73L678.1 545.92L678.6 548.11L679.0 550.32L679.5 552.54L680.0 554.77L680.5 557.01L681.0 559.26L681.4 561.52L681.9 563.79L682.3 566.07L682.8 568.37L683.2 570.68L683.7 573.00L684.1 575.33L684.6 577.67L685.0 580.03L685.4 582.40L685.9 584.78L686.3 587.17L686.7 589.57L687.1 591.99L687.5 594.42L687.9 596.87L688.4 599.33L688.8 601.80L689.1 604.29L689.5 606.78L689.9 609.30L690.3 611.83L690.7 614.37L691.0 616.92L691.4 619.50L691.8 622.08L692.1 624.68L692.5 627.30L692.8 629.93L693.2 632.58L693.5 635.24L693.8 637.92L694.2 640.61L694.5 643.32L694.8 646.05L695.1 648.79L695.5 651.55L695.8 654.33L696.1 657.12L696.4 659.93L696.7 662.76L697.0 665.60L697.3 668.47L697.6 671.35L697.9 674.25L698.2 677.17L698.4 680.11L698.7 683.07L699.0 686.05L699.3 689.04L699.6 692.06L699.8 695.10L700.1 698.15L700.4 701.23L700.6 704.33L700.9 707.45L701.2 710.59L701.4 713.76L701.7 716.94L701.9 720.15L702.2 723.39L702.4 726.64L702.7 731.01"/>
<path d="M210.5 173.54L213.8 174.82L216.3 175.80L218.8 176.78L221.3 177.76L223.8 178.75L226.2 179.73L228.7 180.72L231.1 181.71L233.6 182.70L236.0 183.69L238.4 184.69L240.8 185.69L243.2 186.69L245.6 187.69L247.9 188.70L250.3 189.70L252.6 190.71L255.0 191.72L257.3 192.74L259.6 193.75L261.9 194.77L264.2 195.79L266.5 196.81L268.8 197.84L271.0 198.87L273.3 199.90L275.5 200.93L277.8 201.97L280.0 203.00L282.2 204.04L284.4 205.09L288.8 207.18L293.1 209.28L297.4 211.39L301.7 213.51L305.9 215.64L310.0 217.78L314.2 219.92L318.3 222.08L322.3 224.25L326.3 226.43L330.3 228.62L334.3 230.82L338.2 233.03L342.0 235.25L345.8 237.48L349.6 239.72L353.4 241.97L357.1 244.24L360.8 246.51L364.4 248.80L368.0 251.09L371.6 253.40L375.1 255.70L378.6 258.01L382.1 260.33L385.5 262.67L388.9 265.01L392.3 267.37L395.6 269.74L398.9 272.12L402.2 274.52L405.4 276.93L408.6 279.35L411.7 281.78L414.9 284.23L418.0 286.69L421.0 289.16L424.0 291.65L427.0 294.15L430.0 296.67L432.9 299.19L435.8 301.74L438.6 304.29L441.5 306.86L444.3 309.45L447.0 312.05L449.8 314.67L452.5 317.30L455.1 319.94L457.8 322.60L460.4 325.28L462.9 327.97L465.5 330.68L468.0 333.41L470.5 336.15L472.9 338.91L475.4 341.68L477.7 344.48L480.1 347.29L482.4 350.11L484.7 352.96L487.0 355.82L489.3 358.70L491.5 361.60L493.7 364.52L495.8 367.46L498.0 370.43L500.1 373.41L502.1 376.41L504.2 379.43L506.2 382.47L508.2 385.53L510.1 388.62L512.1 391.72L514.0 394.84L515.9 397.99L517.7 401.16L519.5 404.35L521.3 407.56L523.1 410.80L524.9 414.06L526.6 417.34L528.3 420.65L530.0 423.97L531.7 427.32L533.3 430.70L534.9 434.10L536.5 437.53L538.1 440.99L539.6 444.47L541.1 447.98L542.6 451.51L544.1 455.08L545.5 458.67L547.0 462.29L548.4 465.94L549.8 469.61L551.2 473.32L552.5 477.06L553.8 480.83L555.2 484.63L556.5 488.47L557.7 492.33L559.0 496.24L560.2 500.17L561.4 504.14L562.6 508.15L563.8 512.19L564.9 516.27L566.0 520.39L567.1 524.54L568.2 528.74L569.3 532.97L569.8 535.10L570.3 537.24L570.9 539.40L571.4 541.56L571.9 543.73L572.4 545.92L572.9 548.11L573.3 550.32L573.8 552.54L574.3 554.77L574.8 557.01L575.3 559.26L575.7 561.52L576.2 563.79L576.6 566.07L577.1 568.37L577.5 570.68L578.0 573.00L578.4 575.33L578.9 577.67L579.3 580.03L579.7 582.40L580.2 584.78L580.6 587.17L581.0 589.57L581.4 591.99L581.8 594.42L582.2 596.87L582.7 599.33L583.1 601.80L583.4 604.29L583.8 606.78L584.2 609.30L584.6 611.83L585.0 614.37L585.3 616.92L585.7 619.50L586.1 622.08L586.4 624.68L586.8 627.30L587.1 629.93L587.5 632.58L587.8 635.24L588.1 637.92L588.5 640.61L588.8 643.32L589.1 646.05L589.4 648.79L589.8 651.55L590.1 654.33L590.4 657.12L590.7 659.93L591.0 662.76L591.3 665.60L591.6 668.47L591.9 671.35L592.2 674.25L592.5 677.17L592.7 680.11L593.0 683.07L593.3 686.05L593.6 689.04L593.9 692.06L594.1 695.10L594.4 698.15L594.7 701.23L594.9 704.33L595.2 707.45L595.5 710.59L595.7 713.76L596.0 716.94L596.2 720.15L596.5 723.39L596.7 726.64L597.0 731.01"/>
<path d="M210.5 220.99L214.6 223.17L218.6 225.34L222.6 227.52L226.6 229.72L230.5 231.92L234.4 234.14L238.2 236.36L242.0 238.60L245.8 240.85L249.5 243.10L253.2 245.37L256.9 247.65L260.5 249.94L264.1 252.24L267.6 254.55L271.2 256.85L274.7 259.17L278.1 261.50L281.5 263.84L284.9 266.19L288.3 268.56L291.6 270.93L294.8 273.32L298.1 275.72L301.3 278.14L304.5 280.56L307.6 283.00L310.7 285.46L313.8 287.93L316.8 290.41L319.8 292.90L322.8 295.41L325.7 297.93L328.6 300.46L331.5 303.01L334.4 305.58L337.2 308.15L340.0 310.75L342.7 313.36L345.4 315.98L348.1 318.62L350.7 321.27L353.4 323.94L356.0 326.63L358.5 329.33L361.0 332.04L363.5 334.78L366.0 337.53L368.4 340.29L370.9 343.08L373.2 345.88L375.6 348.70L377.9 351.53L380.2 354.39L382.5 357.26L384.7 360.15L386.9 363.06L389.1 365.99L391.2 368.94L393.3 371.91L395.4 374.91L397.5 377.92L399.5 380.95L401.5 384.00L403.5 387.07L405.4 390.16L407.3 393.28L409.2 396.41L411.1 399.57L412.9 402.75L414.7 405.95L416.5 409.18L418.3 412.43L420.0 415.70L421.8 418.99L423.5 422.31L425.1 425.64L426.8 429.01L428.4 432.40L430.0 435.81L431.6 439.26L433.1 442.72L434.7 446.22L436.2 449.74L437.7 453.29L439.1 456.87L440.6 460.48L442.0 464.11L443.4 467.77L444.8 471.46L446.1 475.19L447.5 478.94L448.8 482.73L450.1 486.54L451.4 490.40L452.6 494.28L453.9 498.20L455.1 502.15L456.3 506.14L457.5 510.17L458.6 514.23L459.8 518.32L460.9 522.46L462.0 526.63L463.1 530.85L464.1 535.10L464.6 537.24L465.2 539.40L465.7 541.56L466.2 543.73L466.7 545.92L467.2 548.11L467.6 550.32L468.1 552.54L468.6 554.77L469.1 557.01L469.6 559.26L470.0 561.52L470.5 563.79L470.9 566.07L471.4 568.37L471.8 570.68L472.3 573.00L472.7 575.33L473.2 577.67L473.6 580.03L474.0 582.40L474.5 584.78L474.9 587.17L475.3 589.57L475.7 591.99L476.1 594.42L476.5 596.87L477.0 599.33L477.4 601.80L477.7 604.29L478.1 606.78L478.5 609.30L478.9 611.83L479.3 614.37L479.6 616.92L480.0 619.50L480.4 622.08L480.7 624.68L481.1 627.30L481.4 629.93L481.8 632.58L482.1 635.24L482.4 637.92L482.8 640.61L483.1 643.32L483.4 646.05L483.7 648.79L484.1 651.55L484.4 654.33L484.7 657.12L485.0 659.93L485.3 662.76L485.6 665.60L485.9 668.47L486.2 671.35L486.5 674.25L486.8 677.17L487.0 680.11L487.3 683.07L487.6 686.05L487.9 689.04L488.2 692.06L488.4 695.10L488.7 698.15L489.0 701.23L489.2 704.33L489.5 707.45L489.8 710.59L490.0 713.76L490.3 716.94L490.5 720.15L490.8 723.39L491.0 726.64L491.3 731.01"/>
<path d="M210.5 289.89L212.6 291.65L215.6 294.15L218.6 296.67L221.5 299.19L224.4 301.74L227.2 304.29L230.1 306.86L232.9 309.45L235.6 312.05L238.4 314.67L241.1 317.30L243.7 319.94L246.4 322.60L249.0 325.28L251.5 327.97L254.1 330.68L256.6 333.41L259.1 336.15L261.5 338.91L264.0 341.68L266.3 344.48L268.7 347.29L271.0 350.11L273.3 352.96L275.6 355.82L277.9 358.70L280.1 361.60L282.3 364.52L284.4 367.46L286.6 370.43L288.7 373.41L290.7 376.41L292.8 379.43L294.8 382.47L296.8 385.53L298.7 388.62L300.7 391.72L302.6 394.84L304.5 397.99L306.3 401.16L308.1 404.35L309.9 407.56L311.7 410.80L313.5 414.06L315.2 417.34L316.9 420.65L318.6 423.97L320.3 427.32L321.9 430.70L323.5 434.10L325.1 437.53L326.7 440.99L328.2 444.47L329.7 447.98L331.2 451.51L332.7 455.08L334.1 458.67L335.6 462.29L337.0 465.94L338.4 469.61L339.8 473.32L341.1 477.06L342.4 480.83L343.8 484.63L345.1 488.47L346.3 492.33L347.6 496.24L348.8 500.17L350.0 504.14L351.2 508.15L352.4 512.19L353.5 516.27L354.6 520.39L355.7 524.54L356.8 528.74L357.9 532.97L358.4 535.10L358.9 537.24L359.5 539.40L360.0 541.56L360.5 543.73L361.0 545.92L361.5 548.11L361.9 550.32L362.4 552.54L362.9 554.77L363.4 557.01L363.9 559.26L364.3 561.52L364.8 563.79L365.2 566.07L365.7 568.37L366.1 570.68L366.6 573.00L367.0 575.33L367.5 577.67L367.9 580.03L368.3 582.40L368.8 584.78L369.2 587.17L369.6 589.57L370.0 591.99L370.4 594.42L370.8 596.87L371.3 599.33L371.7 601.80L372.0 604.29L372.4 606.78L372.8 609.30L373.2 611.83L373.6 614.37L373.9 616.92L374.3 619.50L374.7 622.08L375.0 624.68L375.4 627.30L375.7 629.93L376.1 632.58L376.4 635.24L376.7 637.92L377.1 640.61L377.4 643.32L377.7 646.05L378.0 648.79L378.4 651.55L378.7 654.33L379.0 657.12L379.3 659.93L379.6 662.76L379.9 665.60L380.2 668.47L380.5 671.35L380.8 674.25L381.1 677.17L381.3 680.11L381.6 683.07L381.9 686.05L382.2 689.04L382.5 692.06L382.7 695.10L383.0 698.15L383.3 701.23L383.5 704.33L383.8 707.45L384.1 710.59L384.3 713.76L384.6 716.94L384.8 720.15L385.1 723.39L385.3 726.64L385.6 731.01"/>
</g>
<text class="s" x="85.0" y="60.8" font-size="58">10</text>
<text class="s" x="149.5" y="29.3" font-size="40">−1</text>
<text class="s" x="85.0" y="330.4" font-size="58">10</text>
<text class="s" x="149.5" y="298.9" font-size="40">−2</text>
<text class="s" x="85.0" y="600.0" font-size="58">10</text>
<text class="s" x="149.5" y="568.5" font-size="40">−3</text>
<text class="s" x="85.0" y="869.6" font-size="58">10</text>
<text class="s" x="149.5" y="838.1" font-size="40">−4</text>
<text class="s" x="174" y="895.2" font-size="58">0.1</text>
<text class="s" x="548.5" y="895.2" font-size="58">1</text>
<text class="s" x="792.5" y="895.2" font-size="58">5</text>
<text class="s" x="883" y="895.2" font-size="58">10</text>
<text class="t" x="899" y="241.8" font-size="56">M</text>
<text class="s" x="947" y="255.5" font-size="40">th</text>
<text class="t" x="575" y="1002.3" font-size="85">r</text>
<text class="s" x="608.5" y="1022.5" font-size="59">p</text>
<text class="s" x="713" y="1002.3" font-size="85">[AU]</text>
<g transform="translate(58 0) rotate(-90)">
<text class="t" x="-534" y="0" font-size="85">M</text>
<text class="s" x="-463" y="18" font-size="59">p</text>
<text class="t" x="-406.5" y="0" font-size="85">/</text>
<text class="t" x="-363" y="0" font-size="85">M</text>
<text class="s" x="-291" y="18" font-size="59">*</text>
</g>
</svg></body></html>
